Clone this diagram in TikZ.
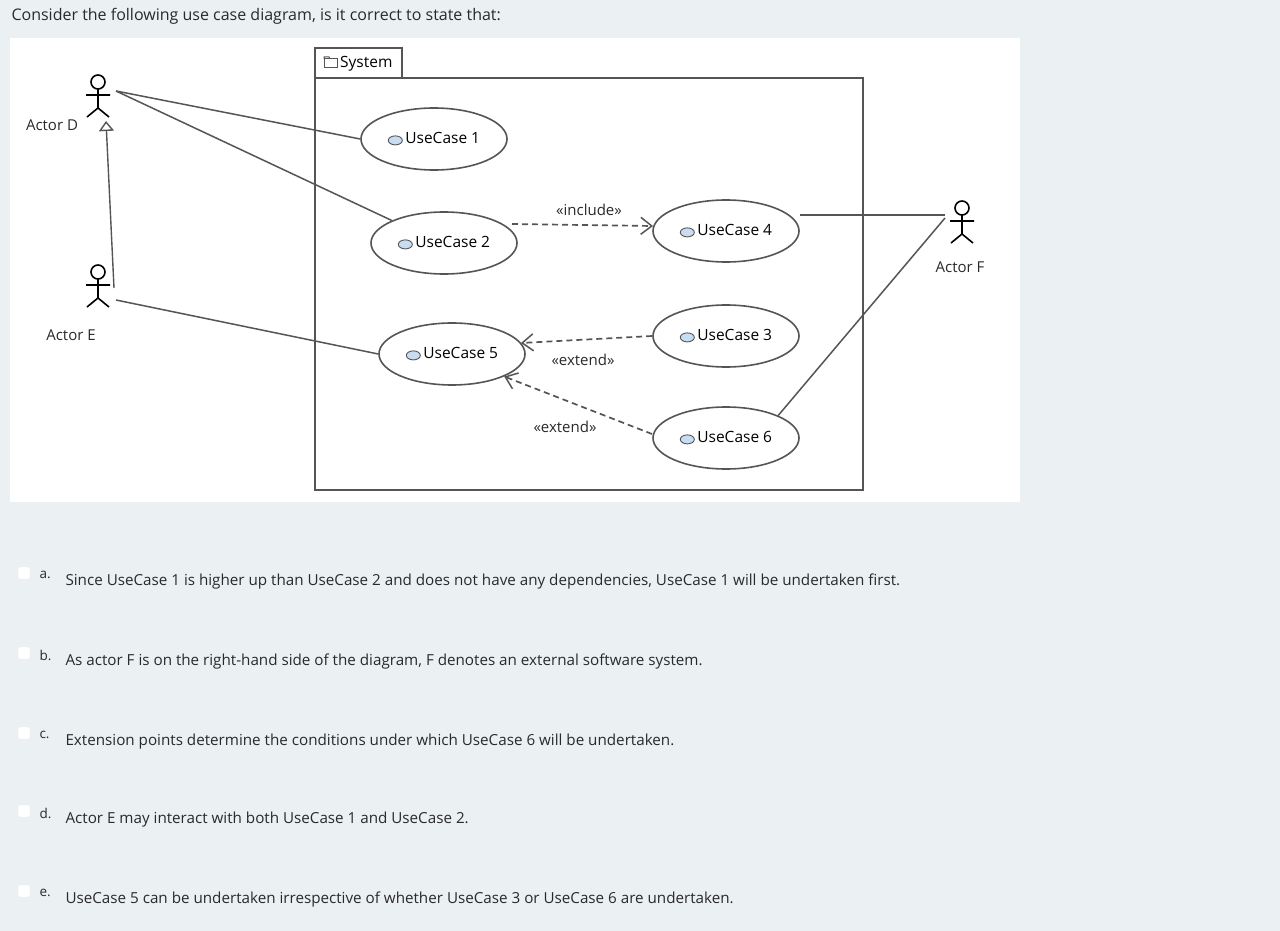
\documentclass[tikz,border=0pt]{standalone}
\usepackage{fontspec}
\setmainfont{Open Sans}
\usetikzlibrary{arrows.meta,shapes.geometric}
\definecolor{bg}{HTML}{EBF0F3}
\definecolor{ln}{HTML}{555555}
\definecolor{txt}{HTML}{2A2A2A}
\definecolor{ic}{HTML}{C9DDF2}
\begin{document}
\begin{tikzpicture}[x=1pt,y=-1pt,
  uc/.style={draw=ln,ellipse,minimum width=146pt,minimum height=62pt,line width=1.6pt,font=\fontsize{15.5}{18}\selectfont,text=black,inner sep=0pt},
  assoc/.style={draw=ln,line width=1.5pt},
  dep/.style={draw=ln,line width=1.7pt,dash pattern=on 6pt off 4pt,-{Straight Barb[length=11pt,width=17pt,line width=1.5pt]}},
  lab/.style={font=\fontsize{15}{17}\selectfont,text=txt},
  opt/.style={font=\fontsize{15.2}{18}\selectfont,text=txt,anchor=west},
  chk/.style={draw=white!85!gray,fill=white,rounded corners=2pt,minimum size=12pt,inner sep=0pt}]
\newcommand{\ucicon}{\tikz[baseline=-3.5pt]\draw[ln,fill=ic,line width=0.9pt] (0,0) ellipse (7pt and 4.5pt);\,}
\newcommand{\actor}[2]{%
  \begin{scope}[shift={(#1,#2)}]
  \draw[black,line width=1.6pt] (0,0) circle (7);
  \draw[black,line width=1.6pt] (0,7)--(0,26) (-12,13)--(12,13) (-11,35)--(0,26)--(11,35);
  \end{scope}}
\useasboundingbox (0,0) rectangle (1280,931);
\fill[bg] (0,0) rectangle (1280,931);
\fill[white] (10,38) rectangle (1020,502);
\node[anchor=west,font=\fontsize{16}{19}\selectfont,text=txt] (q) at (8,16) {Consider the following use case diagram, is it correct to state that:};
% system
\draw[ln,line width=1.6pt] (315,78) rectangle (863,490);
\draw[ln,line width=1.6pt] (315,78)--(315,48)--(402,48)--(402,78);
\node[anchor=west,font=\fontsize{15.5}{18}\selectfont] (sys) at (320,64) {\tikz[baseline=0pt]{\draw[ln,line width=1pt](0,0)rectangle(13pt,9pt);\draw[ln,line width=1pt](0,9pt)--(0,11pt)--(5pt,11pt)--(6pt,9pt);}\,System};
% use cases
\node[uc] (u1) at (434,139) {\ucicon UseCase 1};
\node[uc] (u2) at (444,243) {\ucicon UseCase 2};
\node[uc] (u4) at (726,231) {\ucicon UseCase 4};
\node[uc] (u3) at (726,336) {\ucicon UseCase 3};
\node[uc] (u5) at (452,354) {\ucicon UseCase 5};
\node[uc] (u6) at (726,438) {\ucicon UseCase 6};
% actors
\actor{98}{82}
\actor{98}{272}
\actor{962}{208}
\coordinate (dR) at (116,91);
\coordinate (dB) at (106,121);
\coordinate (eR) at (116,300);
\coordinate (eT) at (114,288);
\coordinate (fL) at (945,215);
\coordinate (fL2) at (945,218);
\coordinate (i1) at (512,224);
\coordinate (i2) at (653,226);
\coordinate (x1) at (521,343);
\coordinate (x2) at (652,434);
\node[lab] (ad) at (52,125) {Actor D};
\node[lab] (ae) at (71,335) {Actor E};
\node[lab] (af) at (960,267) {Actor F};
% associations
\draw[assoc] (dR) -- (u1.west);
\draw[assoc] (dR) -- (u2.north west);
\draw[assoc] (eR) -- (u5.west);
\draw[assoc] (fL) -- (u4.east |- fL);
\draw[assoc] (fL2) -- (u6.north east);
\draw[ln,line width=1.4pt,-{Triangle[open,length=10pt,width=15pt,line width=1.4pt]}] (eT) -- (dB);
% dependencies
\draw[dep] (i1) -- (i2);
\node[lab] (li) at (589,210) {«include»};
\draw[dep] (u3.west) -- (x1);
\node[lab] (le1) at (583,360) {«extend»};
\draw[dep] (x2) -- (u5.south east);
\node[lab] (le2) at (565,427) {«extend»};
% options
\foreach \y/\l/\t in {576/a./Since UseCase 1 is higher up than UseCase 2 and does not have any dependencies{,} UseCase 1 will be undertaken first.,
 656/b./As actor F is on the right-hand side of the diagram{,} F denotes an external software system.,
 736/c./Extension points determine the conditions under which UseCase 6 will be undertaken.,
 814/d./Actor E may interact with both UseCase 1 and UseCase 2.,
 894/e./UseCase 5 can be undertaken irrespective of whether UseCase 3 or UseCase 6 are undertaken.}{
 \node[chk] at (24,\y-3) {};
 \node[opt,font=\fontsize{13.5}{15}\selectfont] at (36,\y-1) {\l};
 \node[opt] at (62,\y+6) {\t};
}
\end{tikzpicture}
\end{document}
